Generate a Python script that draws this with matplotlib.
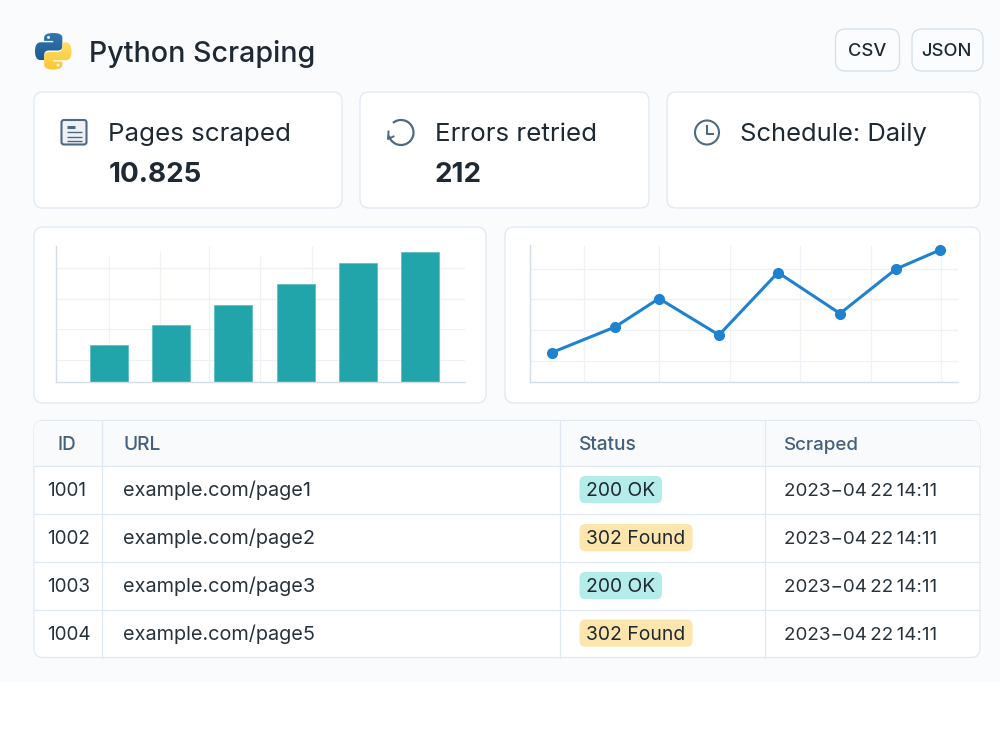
import numpy as np
import matplotlib
matplotlib.use('Agg')
import matplotlib.pyplot as plt
from matplotlib.colors import LinearSegmentedColormap
from matplotlib.patches import FancyBboxPatch, Rectangle, PathPatch, Circle
from matplotlib.path import Path

plt.rcParams['font.family'] = ['Inter', 'DejaVu Sans']

# values
bar_values = [37, 57, 77, 98, 119, 130]
line_x = [22, 85, 129, 189, 248, 310, 366, 410]
line_values = [29, 54.5, 83, 46.5, 109, 68, 112.5, 131.5]

ids = ['1001', '1002', '1003', '1004']
urls = ['example.com/page1', 'example.com/page2', 'example.com/page3', 'example.com/page5']
statuses = ['200 OK', '302 Found', '200 OK', '302 Found']
dates = ['2023\u221204\u200922\u200914:11'] * 4
headers = ['ID', 'URL', 'Status', 'Scraped']

DARK = '#1f2933'
SLATE = '#44607a'
ICON = '#4d6a80'
BORDER = '#e0e8f1'
GRID = '#eef1f6'
TEAL = '#21a5ab'
BLUE = '#1f82d0'

fig = plt.figure(figsize=(10, 7.5), dpi=100, facecolor='white')
# overlay in pixel coordinates for the page furniture
bg = fig.add_axes([0, 0, 1, 1])


def box(x0, y0, x1, y1, r=9, fc='white', ec=BORDER, lw=0.9, z=2):
    p = FancyBboxPatch((x0, y0), x1 - x0, y1 - y0, boxstyle=f'round,pad=0,rounding_size={r}',
                       fc=fc, ec=ec, lw=lw, zorder=z)
    bg.add_patch(p)
    return p


def label(x, y, s, size, color=DARK, weight='normal', ha='left'):
    bg.text(x, y, s, fontsize=size, color=color, fontweight=weight, ha=ha, va='baseline', zorder=6)


bg.add_patch(Rectangle((0, 0), 1000, 682, fc='#fafbfc', ec='none', zorder=0))

# python logo, blue half then the same shape turned round for the yellow one
LX, LY, LS = 35, 33, 1.52
blue_pts = [(Path.MOVETO, (12, 0)), (Path.CURVE3, (18, 0)), (Path.CURVE3, (18, 3)),
            (Path.LINETO, (18, 8.6)), (Path.CURVE3, (18, 11.5)), (Path.CURVE3, (15, 11.5)),
            (Path.LINETO, (9.2, 11.5)), (Path.CURVE3, (6, 11.5)), (Path.CURVE3, (6, 14.6)),
            (Path.LINETO, (6, 17.8)), (Path.LINETO, (3.6, 17.8)), (Path.CURVE3, (0, 17.8)),
            (Path.CURVE3, (0, 12)), (Path.CURVE3, (0, 6.1)), (Path.CURVE3, (3.6, 6.1)),
            (Path.LINETO, (12, 6.1)), (Path.LINETO, (12, 5.2)), (Path.LINETO, (6, 5.2)),
            (Path.LINETO, (6, 3)), (Path.CURVE3, (6, 0)), (Path.CURVE3, (12, 0)),
            (Path.CLOSEPOLY, (12, 0))]
codes = [c for c, _ in blue_pts]
verts = np.array([v for _, v in blue_pts], dtype=float)
blue_patch = PathPatch(Path(verts * LS + [LX, LY], codes), fc='none', ec='none', zorder=3)
yellow_patch = PathPatch(Path((24 - verts) * LS + [LX, LY], codes), fc='none', ec='none', zorder=3)
bg.add_patch(blue_patch)
bg.add_patch(yellow_patch)
ramp = np.linspace(0, 1, 64).reshape(-1, 1)
for patch, cols, y0, y1 in [(blue_patch, ['#3277ad', '#1c5a8e'], 33, 61),
                            (yellow_patch, ['#ffdf66', '#f8c638'], 42, 70)]:
    im = bg.imshow(ramp, cmap=LinearSegmentedColormap.from_list('g', cols), aspect='auto',
                   extent=(35, 72, y1, y0), zorder=3)
    im.set_clip_path(patch)
bg.add_patch(Circle((LX + 8.9 * LS, LY + 2.9 * LS), 1.5, fc='#e8f0f6', ec='none', zorder=4))
bg.add_patch(Circle((LX + 15.1 * LS, LY + 21.1 * LS), 1.5, fc='#fff6d8', ec='none', zorder=4))
bg.set_xlim(0, 1000)
bg.set_ylim(750, 0)
bg.axis('off')

label(89, 61.5, 'Python Scraping', 20.6, weight='medium')

# export buttons
box(835.5, 29, 899.5, 71, r=10, fc='#fbfcfd', ec='#d3dfe9')
box(912, 29, 983, 71, r=10, fc='#fbfcfd', ec='#d3dfe9')
label(867.5, 56, 'CSV', 13.2, weight='medium', ha='center')
label(946.5, 56, 'JSON', 13.2, weight='medium', ha='center')

# summary cards
box(34, 92, 342, 208)
box(360, 92, 649, 208)
box(667, 92, 980, 208)
label(108, 141, 'Pages scraped', 18.7)
label(109, 181.5, '10.825', 20, weight='bold')
label(435, 141, 'Errors retried', 18.7)
label(435, 181.5, '212', 20, weight='bold')
label(740, 141, 'Schedule: Daily', 18.4)

# document icon
box(61.5, 120, 86.5, 144.5, r=2.5, fc='#eef2f6', ec=ICON, lw=1.5, z=3)
bg.plot([66.5, 75], [126.5, 126.5], color=ICON, lw=2.2, zorder=4, solid_capstyle='butt')
for yy in [132, 136.5, 140.5]:
    bg.plot([66.5, 81.5], [yy, yy], color=ICON, lw=1.0, zorder=4, solid_capstyle='butt')

# retry icon
t = np.radians(np.linspace(-125, 160, 60))
bg.plot(401 + 12.5 * np.cos(t), 132.5 + 12.5 * np.sin(t), color=ICON, lw=1.6, zorder=4)
bg.plot([388.5, 388, 393.5], [131.5, 139, 136.5], color=ICON, lw=1.4, zorder=4)

# clock icon
bg.add_patch(Circle((707, 132.5), 12, fc='none', ec=ICON, lw=1.5, zorder=4))
bg.plot([707, 707, 713], [125.5, 134, 134], color=ICON, lw=1.5, zorder=4)

# chart panels
box(34, 227, 486, 403)
box(505, 227, 980, 403)


def chart_axes(x0, y0, x1, y1):
    ax = fig.add_axes([x0 / 1000, 1 - y1 / 750, (x1 - x0) / 1000, (y1 - y0) / 750])
    ax.patch.set_alpha(0)
    ax.set_xticks([])
    ax.set_yticks([])
    for s in ['top', 'right']:
        ax.spines[s].set_visible(False)
    for s in ['left', 'bottom']:
        ax.spines[s].set_color('#d3dde6')
        ax.spines[s].set_linewidth(1.0)
    return ax


# bar chart
ax1 = chart_axes(56, 246, 465, 382)
ax1.set_xlim(-0.852, 5.723)
ax1.set_ylim(0, 136)
ax1.hlines([22, 53, 83, 114], -0.852, 5.723, color=GRID, lw=0.9, zorder=1)
ax1.vlines([0, 0.82, 1.61, 2.43, 3.26], 0, [127, 131, 136, 126, 136], color=GRID, lw=0.9, zorder=1)
ax1.bar(range(len(bar_values)), bar_values, width=0.61, color=TEAL, edgecolor='#55bcc1', lw=0.5, zorder=2)

# line chart
ax2 = chart_axes(530, 245, 958, 381.5)
ax2.set_xlim(0, 428)
ax2.set_ylim(0, 136.5)
ax2.hlines([21, 52, 83, 113], 0, 428, color=GRID, lw=0.9, zorder=1)
ax2.vlines([54, 129, 200, 270, 341, 411], 0, 136.5, color=GRID, lw=0.9, zorder=1)
ax2.plot(line_x, line_values, color=BLUE, lw=2.2, marker='o', ms=7, zorder=3, clip_on=False)

# table
card = box(34, 420.5, 980, 657.5)
head = Rectangle((34, 420.5), 946, 45.5, fc='#f9fafb', ec='none', zorder=3)
bg.add_patch(head)
head.set_clip_path(card)
for yy in [466, 513.5, 561.5, 609.5]:
    bg.plot([34, 980], [yy, yy], color=BORDER, lw=0.9, zorder=4)
for xx in [102, 560, 765]:
    bg.plot([xx, xx], [420.5, 657.5], color=BORDER, lw=0.9, zorder=4)

for h, xx, sz in zip(headers, [57.5, 123.5, 579, 783.5], [13.6, 13.9, 13.8, 13.5]):
    label(xx, 450.5, h, sz, color=SLATE, weight='medium')

row_base = [496.5, 544.5, 592.5, 640.5]
badge_top = [476, 524, 572, 619.5]
for i in range(len(ids)):
    label(47.5, row_base[i], ids[i], 13.6, color='#27323c')
    label(123.5, row_base[i], urls[i], 14.3, color='#27323c')
    ok = statuses[i].startswith('200')
    right = 662 if ok else 692.5
    box(579.5, badge_top[i], right, badge_top[i] + 27.2, r=6, fc='#b3ece8' if ok else '#fde6ad', ec='none', lw=0, z=3)
    label(586.5, row_base[i], statuses[i], 13.9, color='#1f2933')
    label(783.5, row_base[i], dates[i], 13.5, color='#27323c')

fig.savefig('out.png', dpi=100)
